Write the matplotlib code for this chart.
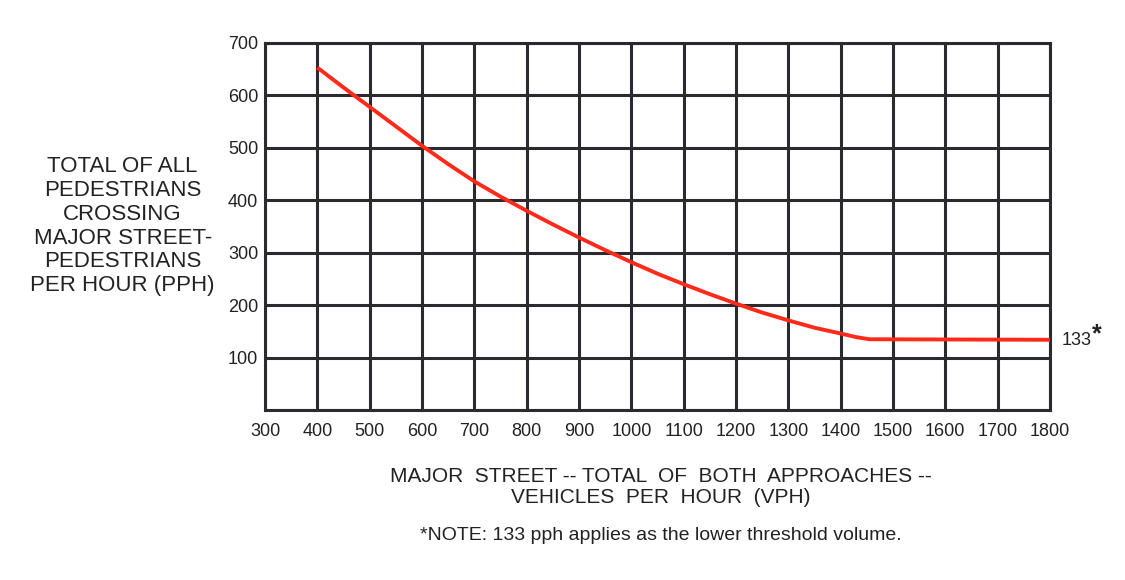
import matplotlib.pyplot as plt

plt.rcParams['font.family'] = ['Liberation Sans', 'DejaVu Sans']

# curve
vph = [400, 450, 500, 550, 600, 650, 700, 750, 800, 850, 900, 950, 1000, 1050,
       1100, 1150, 1200, 1250, 1300, 1350, 1400, 1430, 1455, 1800]
pph = [653, 615, 578, 541, 504, 469, 436, 407, 380, 354, 329, 305, 282, 260,
       240, 221, 203, 186, 171, 157, 146, 139, 135, 134]

x_ticks = list(range(300, 1900, 100))
y_ticks = list(range(0, 800, 100))
y_labels = [''] + [str(v) for v in y_ticks[1:]]

fig = plt.figure(figsize=(11.25, 5.8), dpi=100)
ax = fig.add_axes([0.2356, 0.293, 0.6977, 0.633])

ax.plot(vph, pph, color='#ff2a1a', lw=2.8, solid_capstyle='butt', zorder=3)

ax.set_xlim(300, 1800)
ax.set_ylim(0, 700)
ax.set_xticks(x_ticks)
ax.set_yticks(y_ticks)
ax.set_yticklabels(y_labels)
ax.grid(True, color='#2b2b2f', lw=2.2)
ax.tick_params(length=0, labelsize=13, colors='#222222')
ax.tick_params(axis='y', pad=5)
ax.tick_params(axis='x', pad=9)
for s in ax.spines.values():
    s.set_color('#2b2b2f')
    s.set_linewidth(2.2)

ax.annotate('133', xy=(1800, 133), xytext=(12, 0), textcoords='offset pixels',
            fontsize=13, va='center', ha='left', color='#222222')
ax.annotate('*', xy=(1800, 133), xytext=(42, 6), textcoords='offset pixels',
            fontsize=18, va='center', ha='left', color='#222222', fontweight='bold')

fig.text(0.109, 0.61, 'TOTAL OF ALL\nPEDESTRIANS\nCROSSING\nMAJOR STREET-\nPEDESTRIANS\nPER HOUR (PPH)',
         ha='center', va='center', fontsize=16, linespacing=1.17, color='#222222')
fig.text(0.587, 0.16, 'MAJOR  STREET -- TOTAL  OF  BOTH  APPROACHES --\nVEHICLES  PER  HOUR  (VPH)',
         ha='center', va='center', fontsize=15, linespacing=1.17, color='#222222')
fig.text(0.587, 0.077, '*NOTE: 133 pph applies as the lower threshold volume.',
         ha='center', va='center', fontsize=14, color='#222222')

fig.savefig('out.png', dpi=100)
